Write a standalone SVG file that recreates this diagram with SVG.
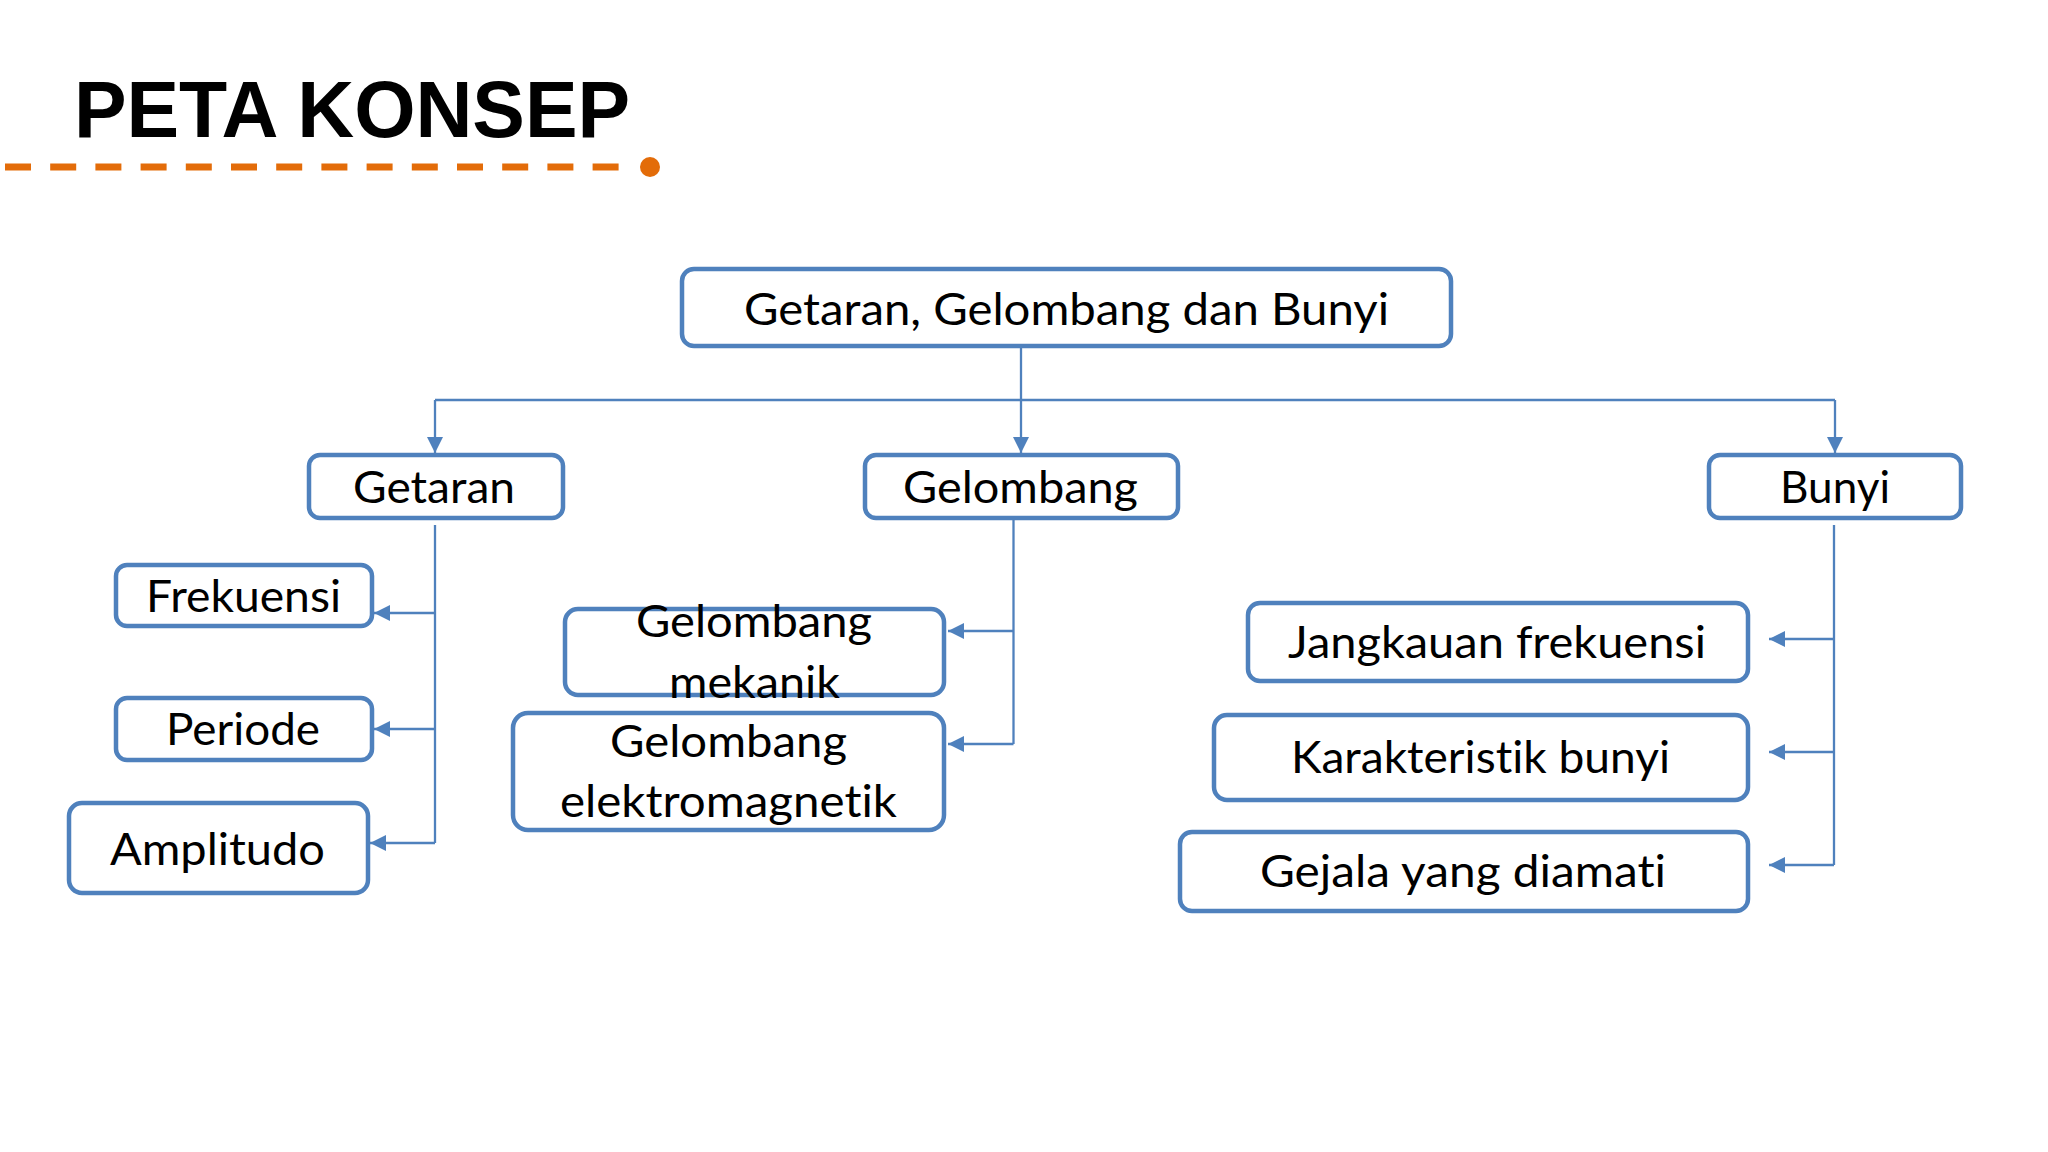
<svg xmlns="http://www.w3.org/2000/svg" width="2048" height="1152" viewBox="0 0 2048 1152">
  <style>
    .box { fill: #ffffff; stroke: #4F81BD; stroke-width: 4.5; }
    .lbl { font-family: Lato, "Open Sans", "Noto Sans", sans-serif; font-size: 44px; fill: #000000; font-variant-ligatures: none; font-feature-settings: "liga" 0, "clig" 0; }
    .con { fill: none; stroke: #4F81BD; stroke-width: 2.3; }
    .title { font-family: "Liberation Sans", Arial, sans-serif; font-weight: bold; font-size: 80px; fill: #000000; }
  </style>
  <defs>
    <marker id="arr" viewBox="0 0 16 16" markerWidth="16" markerHeight="16" refX="16" refY="8" orient="auto" markerUnits="userSpaceOnUse">
      <path d="M0,0 L16,8 L0,16 Z" fill="#4F81BD"/>
    </marker>
  </defs>
  <rect x="0" y="0" width="2048" height="1152" fill="#ffffff"/>

  <g id="title">
    <text class="title" x="74" y="137" textLength="556" lengthAdjust="spacingAndGlyphs">PETA KONSEP</text>
    <line x1="5" y1="167" x2="622" y2="167" stroke="#E36C09" stroke-width="7" stroke-dasharray="26 19.2"/>
    <circle cx="650" cy="167" r="10" fill="#E36C09"/>
  </g>

  <g id="connectors">
    <path class="con" d="M1021,348 V453" marker-end="url(#arr)"/>
    <path class="con" d="M435,400 H1835"/>
    <path class="con" d="M435,400 V453" marker-end="url(#arr)"/>
    <path class="con" d="M1835,400 V453" marker-end="url(#arr)"/>

    <path class="con" d="M435,525 V843"/>
    <path class="con" d="M435,613 H374" marker-end="url(#arr)"/>
    <path class="con" d="M435,729 H374" marker-end="url(#arr)"/>
    <path class="con" d="M435,843 H370" marker-end="url(#arr)"/>

    <path class="con" d="M1013.5,520 V744"/>
    <path class="con" d="M1013.5,631 H948" marker-end="url(#arr)"/>
    <path class="con" d="M1013.5,744 H948" marker-end="url(#arr)"/>

    <path class="con" d="M1834,525 V865"/>
    <path class="con" d="M1834,639 H1769" marker-end="url(#arr)"/>
    <path class="con" d="M1834,752 H1769" marker-end="url(#arr)"/>
    <path class="con" d="M1834,865 H1769" marker-end="url(#arr)"/>
  </g>

  <g id="node-main">
    <rect class="box" x="682" y="269" width="769" height="77" rx="12"/>
    <text class="lbl" x="744" y="325" textLength="645" lengthAdjust="spacingAndGlyphs">Getaran, Gelombang dan Bunyi</text>
  </g>
  <g id="node-getaran">
    <rect class="box" x="309" y="455" width="254" height="63" rx="11"/>
    <text class="lbl" x="353" y="503" textLength="162" lengthAdjust="spacingAndGlyphs">Getaran</text>
  </g>
  <g id="node-gelombang">
    <rect class="box" x="865" y="455" width="313" height="63" rx="11"/>
    <text class="lbl" x="903" y="503" textLength="235" lengthAdjust="spacingAndGlyphs">Gelombang</text>
  </g>
  <g id="node-bunyi">
    <rect class="box" x="1709" y="455" width="252" height="63" rx="11"/>
    <text class="lbl" x="1780" y="503" textLength="110" lengthAdjust="spacingAndGlyphs">Bunyi</text>
  </g>
  <g id="node-frekuensi">
    <rect class="box" x="116" y="565" width="256" height="61" rx="11"/>
    <text class="lbl" x="146" y="612" textLength="195" lengthAdjust="spacingAndGlyphs">Frekuensi</text>
  </g>
  <g id="node-periode">
    <rect class="box" x="116" y="698" width="256" height="62" rx="11"/>
    <text class="lbl" x="166" y="745" textLength="154" lengthAdjust="spacingAndGlyphs">Periode</text>
  </g>
  <g id="node-amplitudo">
    <rect class="box" x="69" y="803" width="299" height="90" rx="13"/>
    <text class="lbl" x="110" y="865" textLength="215" lengthAdjust="spacingAndGlyphs">Amplitudo</text>
  </g>
  <g id="node-mekanik">
    <rect class="box" x="565" y="609" width="379" height="86" rx="13"/>
    <text class="lbl" x="636" y="637" textLength="236" lengthAdjust="spacingAndGlyphs">Gelombang</text>
    <text class="lbl" x="669" y="698" textLength="171" lengthAdjust="spacingAndGlyphs">mekanik</text>
  </g>
  <g id="node-elektromagnetik">
    <rect class="box" x="513" y="713" width="431" height="117" rx="15"/>
    <text class="lbl" x="610" y="757" textLength="237" lengthAdjust="spacingAndGlyphs">Gelombang</text>
    <text class="lbl" x="560" y="817" textLength="337" lengthAdjust="spacingAndGlyphs">elektromagnetik</text>
  </g>
  <g id="node-jangkauan">
    <rect class="box" x="1248" y="603" width="500" height="78" rx="12"/>
    <text class="lbl" x="1288" y="658" textLength="418" lengthAdjust="spacingAndGlyphs">Jangkauan frekuensi</text>
  </g>
  <g id="node-karakteristik">
    <rect class="box" x="1214" y="715" width="534" height="85" rx="13"/>
    <text class="lbl" x="1291" y="773" textLength="379" lengthAdjust="spacingAndGlyphs">Karakteristik bunyi</text>
  </g>
  <g id="node-gejala">
    <rect class="box" x="1180" y="832" width="568" height="79" rx="12"/>
    <text class="lbl" x="1260" y="887" textLength="406" lengthAdjust="spacingAndGlyphs">Gejala yang diamati</text>
  </g>
</svg>
